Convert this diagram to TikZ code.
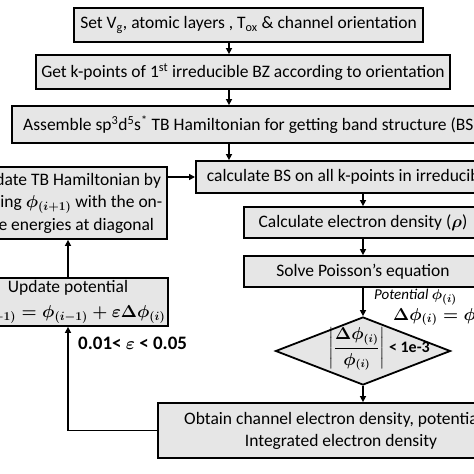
\documentclass[tikz,border=0pt]{standalone}
\usepackage{amsmath}
\usepackage{fontspec}
\setmainfont{Carlito}
\usetikzlibrary{arrows.meta,shapes.geometric}
\tikzset{
  box/.style={draw=black, line width=1.8pt, fill=boxgray, inner sep=0pt, align=center,
    font=\fontsize{17.5}{22.5}\selectfont\boldmath},
  dec/.style={diamond, draw=black, line width=1.8pt, fill=boxgray, inner sep=0pt},
  dectext/.style={inner sep=0pt, font=\fontsize{16}{18}\selectfont\boldmath},
  arr/.style={line width=1.6pt, -{Triangle[length=6pt,width=6pt]}},
  lbl/.style={inner sep=0pt, font=\fontsize{18}{20}\selectfont\boldmath}
}
\definecolor{boxgray}{HTML}{E6E6E6}
\begin{document}
\begin{tikzpicture}[x=1pt,y=-1pt]
\useasboundingbox (0,0) rectangle (474,474);
\clip (0,0) rectangle (474,474);
\fill[white] (0,0) rectangle (474,474);
\coordinate (col) at (229,0);

\node[box, minimum width=349pt, minimum height=34pt] (b1) at (248.5,25)
  {Set V\textsubscript{g}, atomic layers , T\textsubscript{ox} \& channel orientation};
\node[box, minimum width=414pt, minimum height=34pt] (b2) at (243,72)
  {Get k-points of 1\textsuperscript{st} irreducible BZ according to orientation};
\node[box, minimum width=478pt, minimum height=37pt] (b3) at (251,124.5)
  {Assemble sp\textsuperscript{3}d\textsuperscript{5}s\textsuperscript{*} TB Hamiltonian for getting band structure (BS)};
\node[box, minimum width=380pt, minimum height=32pt, anchor=west, align=left, inner xsep=11pt] (calc) at (195,177)
  {calculate BS on all k-points in irreducible BZ\hspace{60pt}};
\node[box, minimum width=198pt, minimum height=72pt] (tb) at (68,203)
  {Update TB Hamiltonian by\\ adding $\phi_{(i+1)}$ with the on-\\ site energies at diagonal};
\node[box, minimum width=200pt, minimum height=48pt, font=\fontsize{17.5}{25}\selectfont\boldmath] (upd) at (68,302)
  {Update potential\\ $\phi_{(i+1)}=\phi_{(i-1)}+\varepsilon\Delta\phi_{(i)}$};
\node[box, minimum width=238pt, minimum height=31pt] (dens) at (363,222.5)
  {Calculate electron density ($\rho$)};
\node[box, minimum width=238pt, minimum height=31pt] (pois) at (363,271.5)
  {Solve Poisson’s equation};
\node[dec, minimum width=175pt, minimum height=68pt] (chk) at (363,351) {};
\node[dectext] (chkt) at (379,349)
  {$\left|\rule[-17pt]{0pt}{40pt}\dfrac{\Delta\phi_{(i)}}{\phi_{(i)}}\right|$ \textbf{< 1e-3}};
\node[box, minimum width=366pt, minimum height=55pt, font=\fontsize{17.5}{22}\selectfont] (obt) at (341,430.5)
  {Obtain channel electron density, potential \&\\ Integrated electron density};

\node[lbl, anchor=west, font=\fontsize{15}{17}\selectfont\itshape\boldmath] (potl) at (374,297) {Potential $\phi_{(i)}$};
\node[lbl, anchor=west] (dphi) at (393,317) {$\Delta\phi_{(i)}=\phi_{(i)}-\phi_{(i-1)}$};
\node[lbl, anchor=west, font=\fontsize{19}{21}\selectfont\boldmath] (eps) at (78,343) {\bfseries 0.01< $\varepsilon$ < 0.05};

\draw[arr] (col |- b1.south) -- (col |- b2.north);
\draw[arr] (col |- b2.south) -- (col |- b3.north);
\draw[arr] (col |- b3.south) -- (col |- calc.north);
\draw[arr] (tb.east |- calc.west) -- (calc.west);
\draw[arr] (dens.center |- calc.south) -- (dens.north);
\draw[arr] (dens.south) -- (pois.north);
\draw[arr] (pois.south) -- (chk.north);
\draw[arr] (chk.south) -- (obt.north -| chk.south);
\draw[arr] (obt.west) -- (obt.west -| upd.south) -- (upd.south);
\draw[arr] (upd.north) -- (tb.south);
\end{tikzpicture}
\end{document}
